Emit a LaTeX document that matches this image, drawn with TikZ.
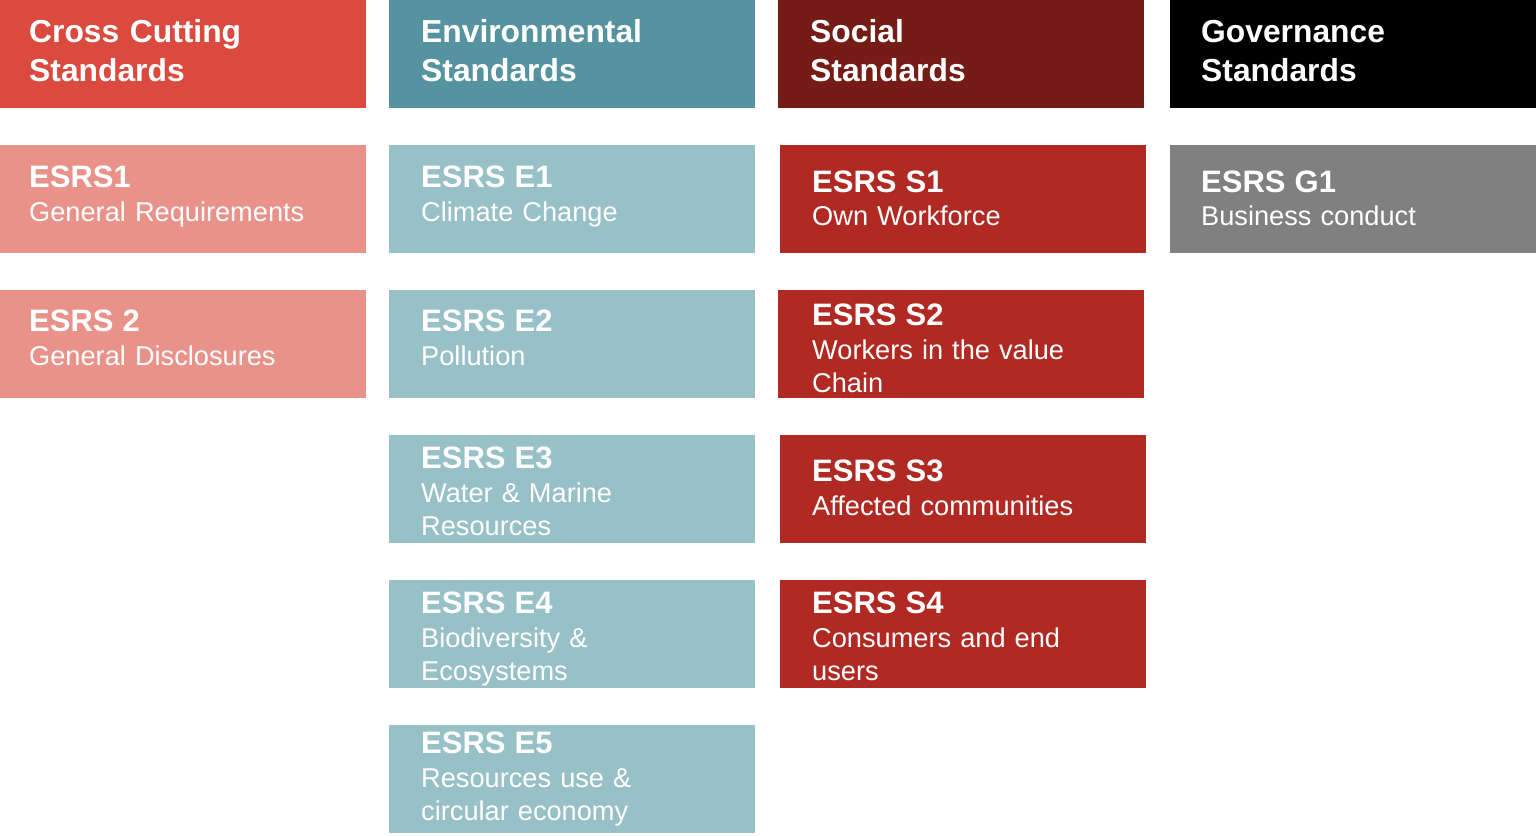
\documentclass[tikz,border=0pt]{standalone}
\usepackage{fontspec}
\setmainfont{Liberation Sans}
\definecolor{crosshead}{HTML}{DA4A3E}
\definecolor{crossbox}{HTML}{E8928A}
\definecolor{envhead}{HTML}{5693A0}
\definecolor{envbox}{HTML}{97C0C7}
\definecolor{sochead}{HTML}{751C16}
\definecolor{socbox}{HTML}{B02A23}
\definecolor{govbox}{HTML}{808080}
\newcommand{\code}[1]{{\fontsize{31}{33.5}\selectfont\bfseries #1}}
\begin{document}
\begin{tikzpicture}[x=1pt,y=1pt]

        \useasboundingbox (0,0) rectangle (1536,-835);

        % coloured boxes
        \begin{scope}[every node/.style={anchor=north west,minimum width=366pt,minimum height=108pt,inner sep=0pt,outer sep=0pt}]
          \node[fill=crosshead] (cross) at (0,0)      {};
          \node[fill=envhead]   (env)   at (389,0)    {};
          \node[fill=sochead]   (soc)   at (778,0)    {};
          \node[fill=black]     (gov)   at (1170,0)   {};
          \node[fill=crossbox]  (esrs1) at (0,-145)   {};
          \node[fill=crossbox]  (esrs2) at (0,-290)   {};
          \node[fill=envbox]    (e1)    at (389,-145) {};
          \node[fill=envbox]    (e2)    at (389,-290) {};
          \node[fill=envbox]    (e3)    at (389,-435) {};
          \node[fill=envbox]    (e4)    at (389,-580) {};
          \node[fill=envbox]    (e5)    at (389,-725) {};
          \node[fill=socbox]    (s1)    at (780,-145) {};
          \node[fill=socbox]    (s2)    at (778,-290) {};
          \node[fill=socbox]    (s3)    at (780,-435) {};
          \node[fill=socbox]    (s4)    at (780,-580) {};
          \node[fill=govbox]    (g1)    at (1170,-145) {};
        \end{scope}

        % texts
        \begin{scope}[every node/.style={anchor=base west,text width=330pt,align=left,inner sep=0pt,text=white}]

          \begin{scope}[font=\fontsize{31.8}{39}\selectfont\bfseries]
            \node (crosstxt) at ([shift={(29,-42)}]cross.north west) {Cross Cutting\\Standards};
            \node (envtxt)   at ([shift={(32,-42)}]env.north west)   {Environmental\\Standards};
            \node (soctxt)   at ([shift={(32,-42)}]soc.north west)   {Social\\Standards};
            \node (govtxt)   at ([shift={(31,-42.5)}]gov.north west)   {Governance\\Standards};
          \end{scope}

          \begin{scope}[font=\fontsize{27.2}{33.5}\selectfont]
            \node (esrs1txt) at ([shift={(29,-42.5)}]esrs1.north west) {\code{ESRS1}\\General Requirements};
            \node (esrs2txt) at ([shift={(29,-41.5)}]esrs2.north west) {\code{ESRS 2}\\General Disclosures};
            \node (e1txt) at ([shift={(32,-42.5)}]e1.north west) {\code{ESRS E1}\\Climate Change};
            \node (e2txt) at ([shift={(32,-41.5)}]e2.north west) {\code{ESRS E2}\\Pollution};
            \node (e3txt) at ([shift={(32,-33.5)}]e3.north west) {\code{ESRS E3}\\Water \& Marine\\Resources};
            \node (e4txt) at ([shift={(32,-33.5)}]e4.north west) {\code{ESRS E4}\\Biodiversity \&\\Ecosystems};
            \node (e5txt) at ([shift={(32,-28.5)}]e5.north west) {\code{ESRS E5}\\Resources use \&\\circular economy};
            \node (s1txt) at ([shift={(32,-47)}]s1.north west) {\code{ESRS S1}\\Own Workforce};
            \node (s2txt) at ([shift={(34,-35.5)}]s2.north west) {\code{ESRS S2}\\Workers in the value\\Chain};
            \node (s3txt) at ([shift={(32,-46.5)}]s3.north west) {\code{ESRS S3}\\Affected communities};
            \node (s4txt) at ([shift={(32,-33.5)}]s4.north west) {\code{ESRS S4}\\Consumers and end\\users};
            \node (g1txt) at ([shift={(31,-47)}]g1.north west) {\code{ESRS G1}\\Business conduct};
          \end{scope}
        \end{scope}

      \end{tikzpicture}
\end{document}
